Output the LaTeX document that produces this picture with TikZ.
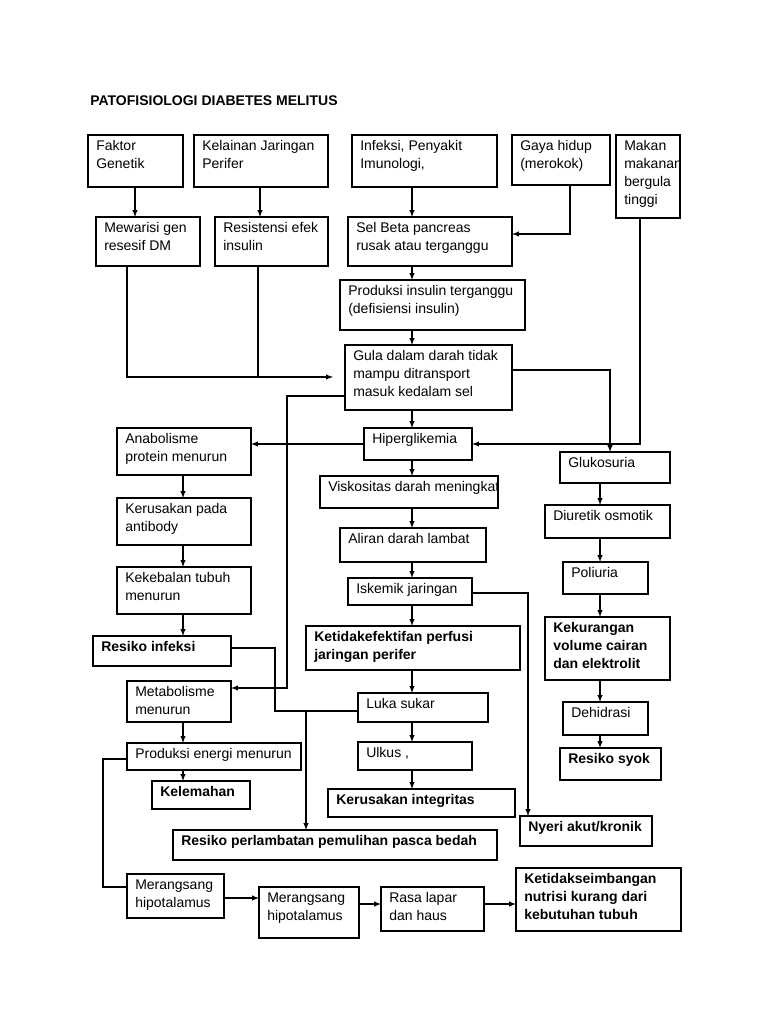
\documentclass[tikz,border=0pt]{standalone}
\usepackage{fontspec}
\setmainfont{Liberation Sans}
\begin{document}
\begin{tikzpicture}[x=0.75pt,y=-0.75pt,
  box/.style={draw,line width=0.8pt,inner sep=0pt,outer sep=0pt},
  ln/.style={line width=0.8pt},
  ar/.style={line width=0.8pt,-latex},
  bf/.style={font=\fontsize{10.5}{13.5}\selectfont\bfseries}]
\useasboundingbox (0,0) rectangle (768,1024);
\newcommand\bx[7][]{%
  \node[box,anchor=north west,minimum width={(#4-#2)*0.75pt},minimum height={(#5-#3)*0.75pt}] (#7) at (#2,#3) {};
  \node[anchor=north west,align=left,inner sep=0pt,font=\fontsize{10.5}{13.5}\selectfont,#1] (#7t) at ([xshift=6pt,yshift=-4pt]#7.north west) {#6};}
\node[anchor=west,inner sep=0pt,font=\fontsize{10.5}{13}\selectfont\bfseries] (title) at (90,101) {PATOFISIOLOGI DIABETES MELITUS};
\bx{88}{135}{183}{187}{Faktor\\Genetik}{fg}
\bx{194}{135}{328}{187}{Kelainan Jaringan\\Perifer}{kj}
\bx{352}{135}{497}{187}{Infeksi, Penyakit\\Imunologi,}{ip}
\bx{512}{135}{610}{185}{Gaya hidup\\(merokok)}{gh}
\bx{616}{135}{680}{218}{Makan\\makanan\\bergula\\tinggi}{mk}
\bx{96}{217}{200}{266}{Mewarisi gen\\resesif DM}{mw}
\bx{215}{217}{328}{266}{Resistensi efek\\insulin}{rs}
\bx{348}{217}{512}{266}{Sel Beta pancreas\\rusak atau terganggu}{sb}
\bx{340}{280}{525}{330}{Produksi insulin terganggu\\(defisiensi insulin)}{pi}
\bx{345}{345}{512}{410}{Gula dalam darah tidak\\mampu ditransport\\masuk kedalam sel}{gd}
\bx{364}{428}{472}{460}{Hiperglikemia}{hg}
\bx{117}{428}{251}{475}{Anabolisme\\protein menurun}{an}
\bx{560}{452}{670}{483}{Glukosuria}{gk}
\bx{320}{476}{498}{508}{Viskositas darah meningkat}{vk}
\bx{117}{498}{251}{545}{Kerusakan pada\\antibody}{ka}
\bx{545}{505}{670}{538}{Diuretik osmotik}{dr}
\bx{340}{528}{486}{562}{Aliran darah lambat}{al}
\bx{117}{567}{251}{614}{Kekebalan tubuh\\menurun}{kt}
\bx{563}{562}{648}{594}{Poliuria}{pl}
\bx{348}{578}{472}{605}{Iskemik jaringan}{is}
\bx[bf]{93}{636}{231}{666}{Resiko infeksi}{ri}
\bx[bf]{306}{626}{520}{670}{Ketidakefektifan perfusi\\jaringan perifer}{kp}
\bx[bf]{545}{617}{670}{680}{Kekurangan\\volume cairan\\dan elektrolit}{kv}
\bx{127}{681}{231}{722}{Metabolisme\\menurun}{mt}
\bx{358}{693}{488}{722}{Luka sukar}{ls}
\bx{563}{702}{648}{735}{Dehidrasi}{dh}
\bx{127}{743}{301}{770}{Produksi energi menurun}{pe}
\bx{358}{742}{472}{770}{Ulkus ,}{uk}
\bx[bf]{560}{748}{661}{780}{Resiko syok}{sy}
\bx[bf]{152}{781}{250}{809}{Kelemahan}{kl}
\bx[bf]{328}{789}{515}{817}{Kerusakan integritas}{ki}
\bx[bf]{520}{816}{652}{846}{Nyeri akut/kronik}{ny}
\bx[bf]{173}{830}{497}{860}{Resiko perlambatan pemulihan pasca bedah}{rp}
\bx{127}{874}{224}{918}{Merangsang\\hipotalamus}{m1}
\bx{259}{887}{359}{938}{Merangsang\\hipotalamus}{m2}
\bx{381}{887}{484}{931}{Rasa lapar\\dan haus}{rl}
\bx[bf]{516}{868}{681}{931}{Ketidakseimbangan\\nutrisi kurang dari\\kebutuhan tubuh}{kn}
% connectors
\draw[ar] (fg.south -| 135,0) -- (mw.north -| 135,0);
\draw[ar] (kj.south -| 260,0) -- (rs.north -| 260,0);
\draw[ar] (ip.south -| 412,0) -- (sb.north -| 412,0);
\draw[ar] (gh.south -| 570,0) |- (sb.east |- 0,234);
\draw[ar] (sb.south -| 412,0) -- (pi.north -| 412,0);
\draw[ar] (pi.south -| 412,0) -- (gd.north -| 412,0);
\coordinate (j1) at (333,377);
\draw[ar] (mw.south -| 127,0) |- (j1);
\draw[ln] (rs.south -| 258,0) -- (258,377);
\draw[ar] (gd.east |- 0,370) -| (gk.north -| 610,0);
\draw[ar] (mk.south -| 640,0) |- (hg.east);
\draw[ar] (gd.west |- 0,396) -| (287,688) -- (mt.east |- 0,688);
\draw[ar] (gd.south -| 412,0) -- (hg.north -| 412,0);
\draw[ar] (hg.west) -- (an.east |- hg.west);
\draw[ar] (hg.south -| 412,0) -- (vk.north -| 412,0);
\draw[ar] (vk.south -| 412,0) -- (al.north -| 412,0);
\draw[ar] (al.south -| 412,0) -- (is.north -| 412,0);
\draw[ar] (is.south -| 412,0) -- (kp.north -| 412,0);
\draw[ar] (kp.south -| 412,0) -- (ls.north -| 412,0);
\draw[ar] (ls.south -| 412,0) -- (uk.north -| 412,0);
\draw[ar] (uk.south -| 412,0) -- (ki.north -| 412,0);
\draw[ar] (is.east |- 0,593) -| (ny.north -| 528,0);
\draw[ar] (an.south -| 183,0) -- (ka.north -| 183,0);
\draw[ar] (ka.south -| 183,0) -- (kt.north -| 183,0);
\draw[ar] (kt.south -| 183,0) -- (ri.north -| 183,0);
\draw[ln] (ri.east |- 0,648) -| (275,711) -- (ls.west |- 0,711);
\draw[ar] (306,711) -- (rp.north -| 306,0);
\draw[ar] (mt.south -| 183,0) -- (pe.north -| 183,0);
\draw[ar] (pe.south -| 183,0) -- (kl.north -| 183,0);
\draw[ln] (pe.west |- 0,759) -| (103,887) -- (m1.west |- 0,887);
\draw[ar] (gk.south -| 600,0) -- (dr.north -| 600,0);
\draw[ar] (dr.south -| 600,0) -- (pl.north -| 600,0);
\draw[ar] (pl.south -| 600,0) -- (kv.north -| 600,0);
\draw[ar] (kv.south -| 600,0) -- (dh.north -| 600,0);
\draw[ar] (dh.south -| 600,0) -- (sy.north -| 600,0);
\draw[ar] (m1.east |- 0,898) -- (m2.west |- 0,898);
\draw[ar] (m2.east |- 0,904) -- (rl.west |- 0,904);
\draw[ar] (rl.east |- 0,904) -- (kn.west |- 0,904);
\end{tikzpicture}
\end{document}
